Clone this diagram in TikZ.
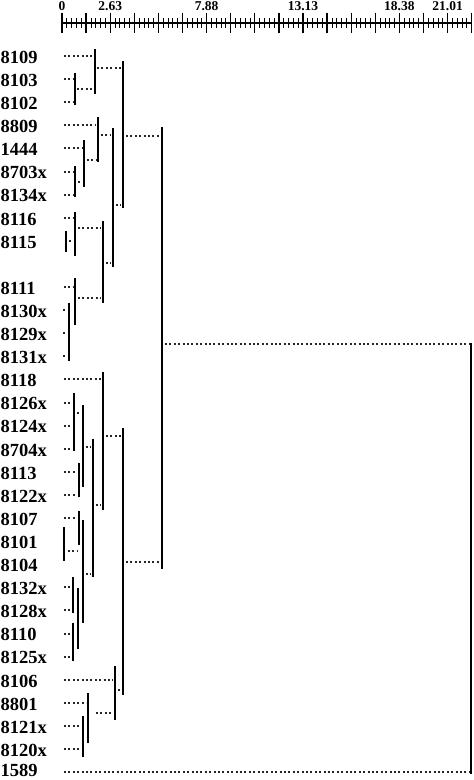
\documentclass[tikz,border=0pt]{standalone}
\usepackage{fontspec}
\setmainfont{Liberation Serif}
\usepackage{tikz}
\tikzset{
  leaf/.style={anchor=base west,inner sep=0pt,font=\fontsize{18.5}{20}\selectfont\bfseries},
  ticklabel/.style={anchor=base,inner sep=0pt,font=\fontsize{13.5}{14}\selectfont\bfseries},
  stars/.style={line width=2pt,dash pattern=on 2pt off 2.4pt,black!85},
  bar/.style={line width=1.5pt,black},
}

\begin{document}
\begin{tikzpicture}[x=1pt,y=-1pt]
  \useasboundingbox (0,0) rectangle (474,780);
  % scale
  \draw[line width=1.2pt] (62,23) -- (472,23);
  \foreach \k in {0,...,17}
    \draw[line width=1.3pt] ({62+24.1*\k},12.5) -- ({62+24.1*\k},33);
  \foreach \k in {0,...,16}
    \foreach \m in {1,...,4}
      \draw[line width=0.8pt] ({62+24.1*\k+4.82*\m},18) -- ({62+24.1*\k+4.82*\m},28);
  \node[ticklabel] (s0) at (62,10.8) {0};
  \node[ticklabel] (s1) at (110.2,10.8) {2.63};
  \node[ticklabel] (s2) at (206.6,10.8) {7.88};
  \node[ticklabel] (s3) at (303,10.8) {13.13};
  \node[ticklabel] (s4) at (399.4,10.8) {18.38};
  \node[ticklabel] (s5) at (447.6,10.8) {21.01};
  % leaves
  \node[leaf] (n8109) at (0.5,63.3) {8109};
  \node[leaf] (n8103) at (0.5,86.4) {8103};
  \node[leaf] (n8102) at (0.5,109.5) {8102};
  \node[leaf] (n8809) at (0.5,132.6) {8809};
  \node[leaf] (n1444) at (0.5,155.7) {1444};
  \node[leaf] (n8703x) at (0.5,178.8) {8703x};
  \node[leaf] (n8134x) at (0.5,201.9) {8134x};
  \node[leaf] (n8116) at (0.5,225) {8116};
  \node[leaf] (n8115) at (0.5,248.1) {8115};
  \node[leaf] (n8111) at (0.5,294.3) {8111};
  \node[leaf] (n8130x) at (0.5,317.4) {8130x};
  \node[leaf] (n8129x) at (0.5,340.5) {8129x};
  \node[leaf] (n8131x) at (0.5,363.6) {8131x};
  \node[leaf] (n8118) at (0.5,386.7) {8118};
  \node[leaf] (n8126x) at (0.5,409.8) {8126x};
  \node[leaf] (n8124x) at (0.5,432.9) {8124x};
  \node[leaf] (n8704x) at (0.5,456) {8704x};
  \node[leaf] (n8113) at (0.5,479.1) {8113};
  \node[leaf] (n8122x) at (0.5,502.2) {8122x};
  \node[leaf] (n8107) at (0.5,525.3) {8107};
  \node[leaf] (n8101) at (0.5,548.4) {8101};
  \node[leaf] (n8104) at (0.5,571.5) {8104};
  \node[leaf] (n8132x) at (0.5,594.6) {8132x};
  \node[leaf] (n8128x) at (0.5,617.7) {8128x};
  \node[leaf] (n8110) at (0.5,640.8) {8110};
  \node[leaf] (n8125x) at (0.5,663.9) {8125x};
  \node[leaf] (n8106) at (0.5,687) {8106};
  \node[leaf] (n8801) at (0.5,710.1) {8801};
  \node[leaf] (n8121x) at (0.5,733.2) {8121x};
  \node[leaf] (n8120x) at (0.5,756.3) {8120x};
  \node[leaf] (n1589) at (0.5,776) {1589};
  % upper group
  \draw[stars] (64,56) -- (93,56);
  \draw[stars] (64,79) -- (73,79);
  \draw[stars] (64,102) -- (73,102);
  \draw[bar] (75,73) -- (75,105);
  \draw[stars] (77,89) -- (93,89);
  \draw[bar] (95,49) -- (95,94);
  \draw[stars] (97,68) -- (121,68);
  \draw[bar] (123,61) -- (123,208);
  \draw[stars] (64,125) -- (96,125);
  \draw[bar] (98,117) -- (98,162);
  \draw[stars] (64,148) -- (82,148);
  \draw[bar] (84,140) -- (84,187);
  \draw[stars] (64,171.5) -- (73,171.5);
  \draw[stars] (64,194.5) -- (73,194.5);
  \draw[bar] (75,166) -- (75,197);
  \draw[stars] (78,182) -- (82,182);
  \draw[stars] (87,160) -- (96,160);
  \draw[stars] (101,135) -- (111,135);
  \draw[bar] (113,128) -- (113,267);
  \draw[stars] (116,205) -- (121,205);
  \draw[stars] (126,136) -- (160,136);
  \draw[bar] (162,127) -- (162,569);
  \draw[stars] (64,217.7) -- (73,217.7);
  \draw[bar] (66,231) -- (66,252);
  \draw[stars] (68.5,240.8) -- (72,240.8);
  \draw[bar] (75,212) -- (75,256);
  \draw[stars] (78,228) -- (101,228);
  \draw[bar] (103,221) -- (103,303);
  \draw[stars] (106,263) -- (111,263);
  \draw[stars] (64,287) -- (73,287);
  \draw[bar] (75,278) -- (75,325);
  \draw[stars] (63,310) -- (67,310);
  \draw[stars] (63,333) -- (67,333);
  \draw[stars] (63,356.3) -- (67,356.3);
  \draw[bar] (69,303) -- (69,361);
  \draw[stars] (78,298) -- (101,298);
  % root
  \draw[stars] (165,344) -- (469,344);
  \draw[bar] (471,343) -- (471,774);
  \draw[stars] (64,772) -- (469,772);
  % lower group
  \draw[stars] (64,379.4) -- (101,379.4);
  \draw[bar] (103,372) -- (103,510);
  \draw[stars] (64,402.5) -- (72,402.5);
  \draw[stars] (64,425.6) -- (72,425.6);
  \draw[stars] (64,448.7) -- (72,448.7);
  \draw[bar] (74,393) -- (74,451);
  \draw[stars] (77,413) -- (81,413);
  \draw[bar] (83,405) -- (83,487);
  \draw[stars] (64,471.8) -- (77,471.8);
  \draw[stars] (64,494.9) -- (77,494.9);
  \draw[bar] (79,463) -- (79,497);
  \draw[stars] (86,447) -- (91,447);
  \draw[bar] (93,439) -- (93,577);
  \draw[stars] (96,505) -- (101,505);
  \draw[stars] (106,436) -- (121,436);
  \draw[bar] (123,428) -- (123,695);
  \draw[stars] (64,518) -- (77,518);
  \draw[bar] (79,511) -- (79,545);
  \draw[bar] (64,527) -- (64,561);
  \draw[stars] (68,551) -- (77,551);
  \draw[bar] (83,520) -- (83,623);
  \draw[stars] (86,574) -- (91,574);
  \draw[stars] (64,587.3) -- (71,587.3);
  \draw[stars] (64,610.4) -- (71,610.4);
  \draw[bar] (73,577) -- (73,613);
  \draw[stars] (64,633.5) -- (71,633.5);
  \draw[stars] (64,656.6) -- (71,656.6);
  \draw[bar] (73,623) -- (73,661);
  \draw[bar] (78,588) -- (78,649);
  \draw[stars] (126,562) -- (160,562);
  \draw[stars] (64,679.7) -- (113,679.7);
  \draw[bar] (115,666) -- (115,720);
  \draw[stars] (117.5,690) -- (121,690);
  \draw[stars] (64,702.8) -- (86,702.8);
  \draw[bar] (88,693) -- (88,743);
  \draw[stars] (64,725.9) -- (81,725.9);
  \draw[stars] (64,749) -- (81,749);
  \draw[bar] (83,716) -- (83,757);
  \draw[stars] (96,713) -- (113,713);
\end{tikzpicture}
\end{document}
